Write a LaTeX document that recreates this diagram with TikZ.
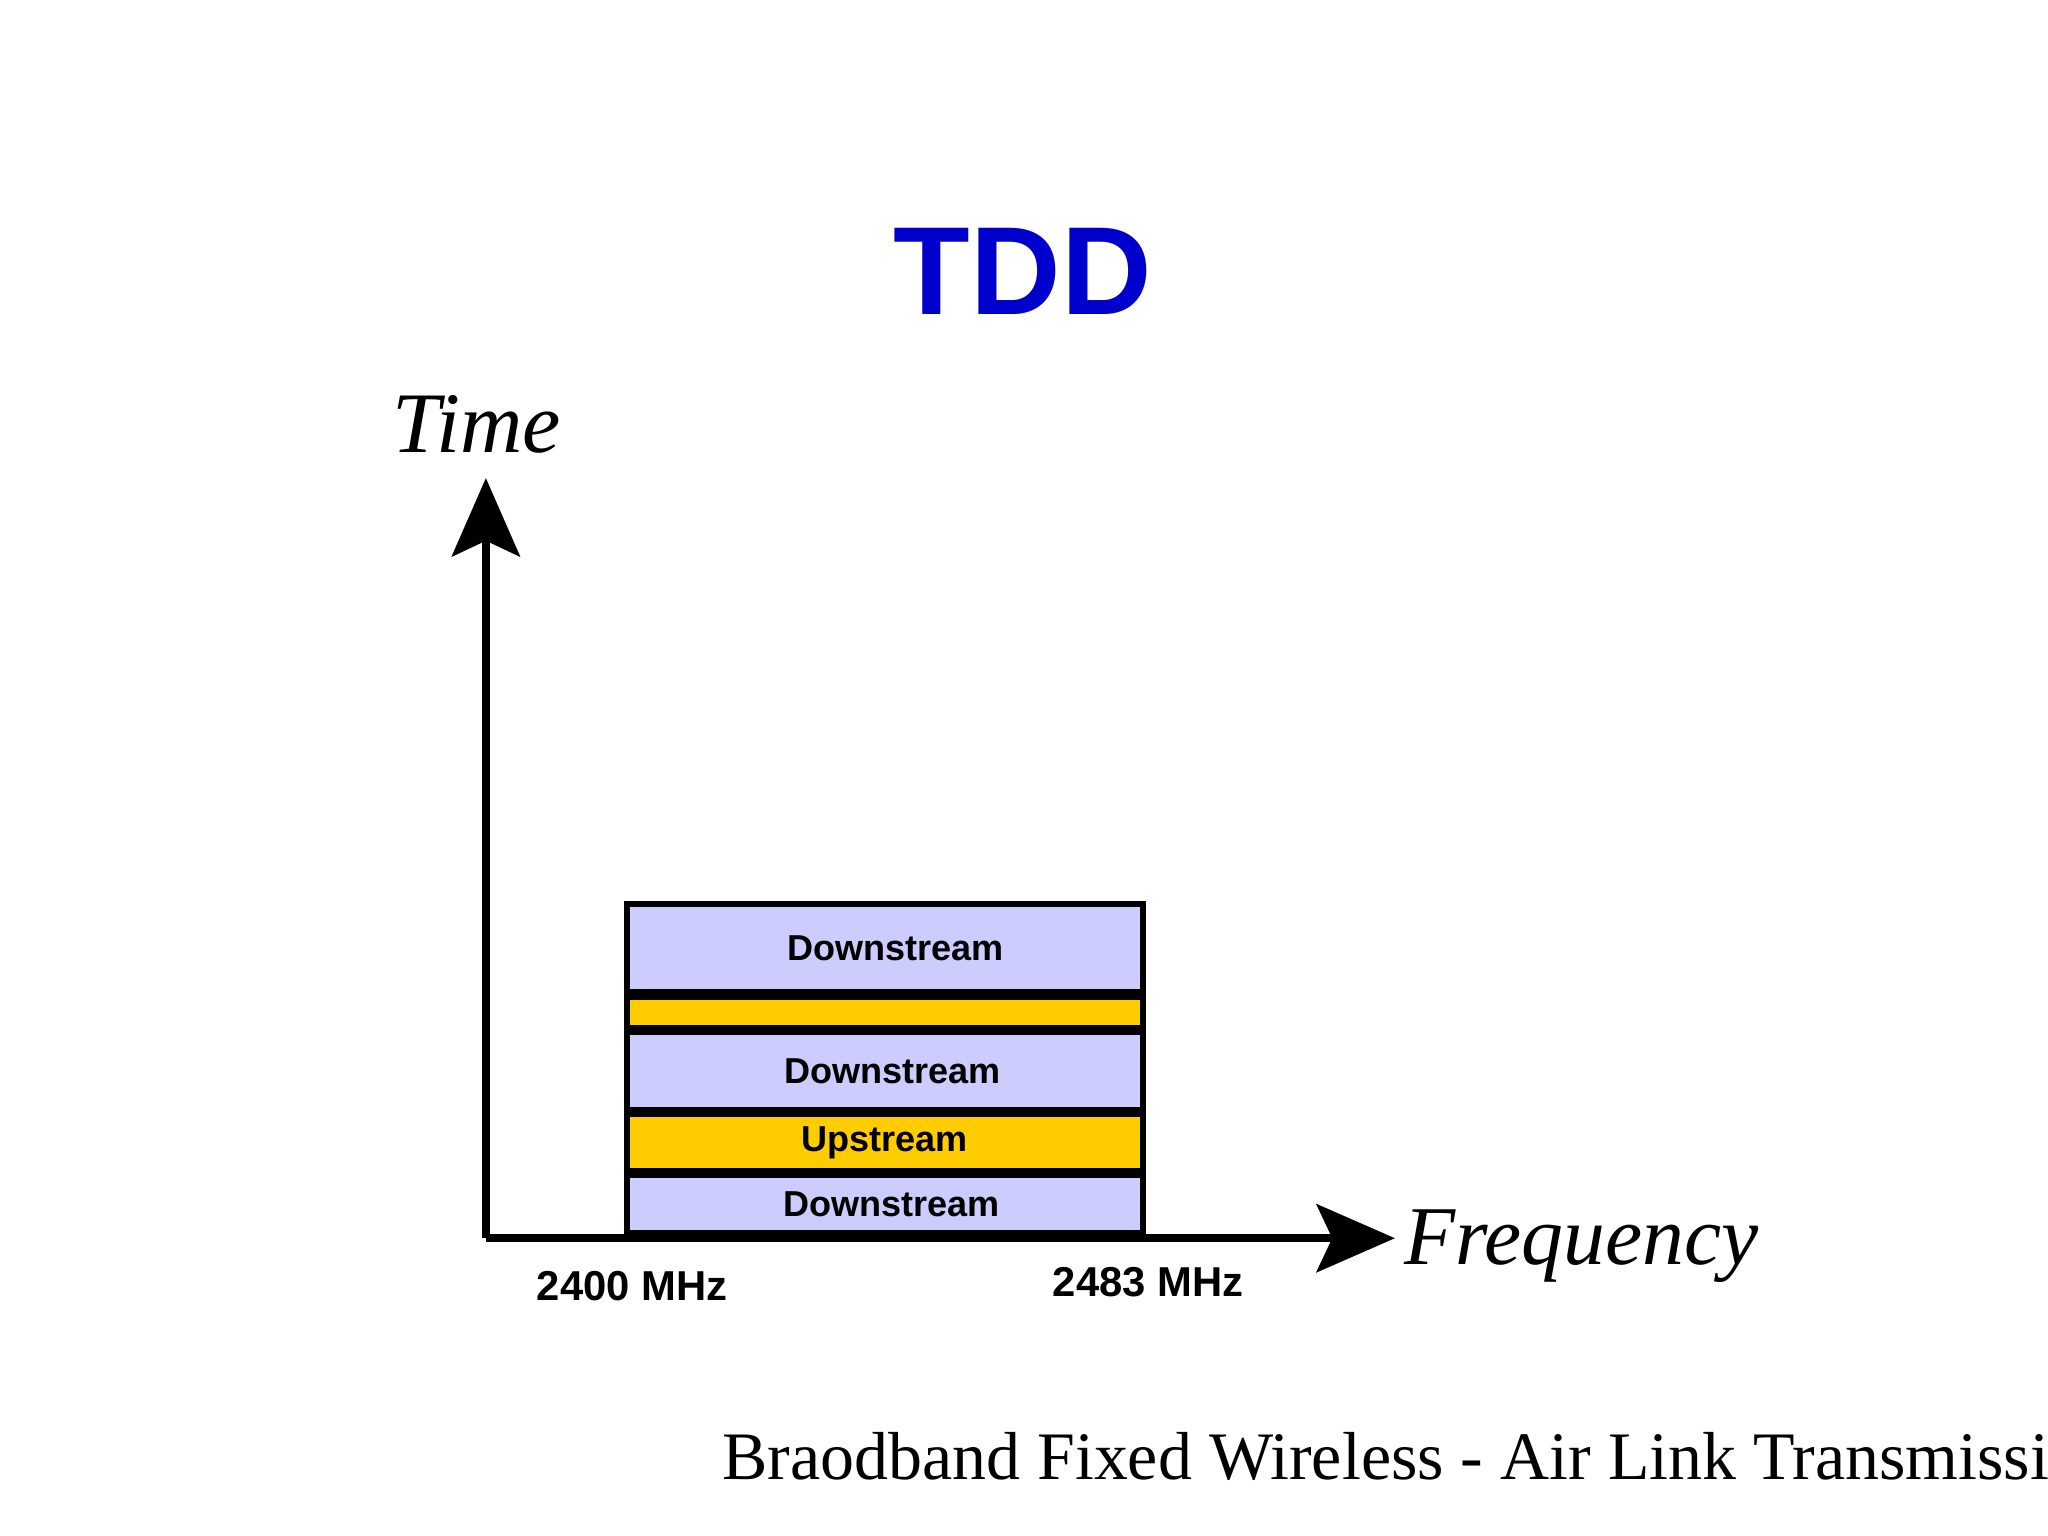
\documentclass[tikz,border=0pt]{standalone}
\usepackage{fontspec}
\setmainfont{Liberation Serif}
\setsansfont{Liberation Sans}
\usetikzlibrary{arrows.meta}
\definecolor{lav}{HTML}{CCCCFF}
\definecolor{yel}{HTML}{FFCC00}
\definecolor{tblue}{HTML}{0000CC}
\begin{document}
\begin{tikzpicture}[x=0.5pt,y=-0.5pt,
  band/.style={draw=black,line width=2.5pt,minimum width=197.5pt,inner sep=0pt,font=\sffamily\bfseries\fontsize{13.8}{15}\selectfont},
  axis/.style={line width=3pt,-{Stealth[length=30pt,width=26pt,inset=6pt]}},
  lbl/.style={font=\sffamily\bfseries\fontsize{16}{18}\selectfont}]
\clip (0,0) rectangle (1568,1176);
\fill[white] (0,0) rectangle (1568,1176);
\node[font=\sffamily\bfseries\fontsize{48}{52}\selectfont,text=tblue] (title) at (783,208) {TDD};
\node[font=\itshape\fontsize{33}{36}\selectfont] (time) at (365,325) {Time};
\coordinate (o) at (372,948);
\coordinate (ytip) at (372,366);
\coordinate (xtip) at (1068,948);
\draw[axis] (o) -- (ytip);
\draw[axis] (o) -- (xtip);
\node[font=\itshape\fontsize{32}{36}\selectfont,anchor=west] (freq) at (1068,954) {Frequency};
\node[band,fill=lav,minimum height=34pt] (d1) at (677.5,726) {\hspace*{8pt}Downstream};
\node[band,fill=yel,minimum height=12pt] (y1) at (677.5,775) {};
\node[band,fill=lav,minimum height=30pt] (d2) at (677.5,820) {\hspace*{6pt}Downstream};
\node[band,fill=yel,minimum height=22pt] (u1) at (677.5,875) {Upstream};
\node[band,fill=lav,minimum height=22.5pt] (d3) at (677.5,922) {\hspace*{5pt}Downstream};
\node[lbl] (f1) at (484,985) {2400 MHz};
\node[lbl] (f2) at (879,982) {2483 MHz};
\node[font=\fontsize{26}{30}\selectfont,anchor=west] (foot) at (546,1115) {Braodband Fixed Wireless - Air Link Transmission};
\end{tikzpicture}
\end{document}
